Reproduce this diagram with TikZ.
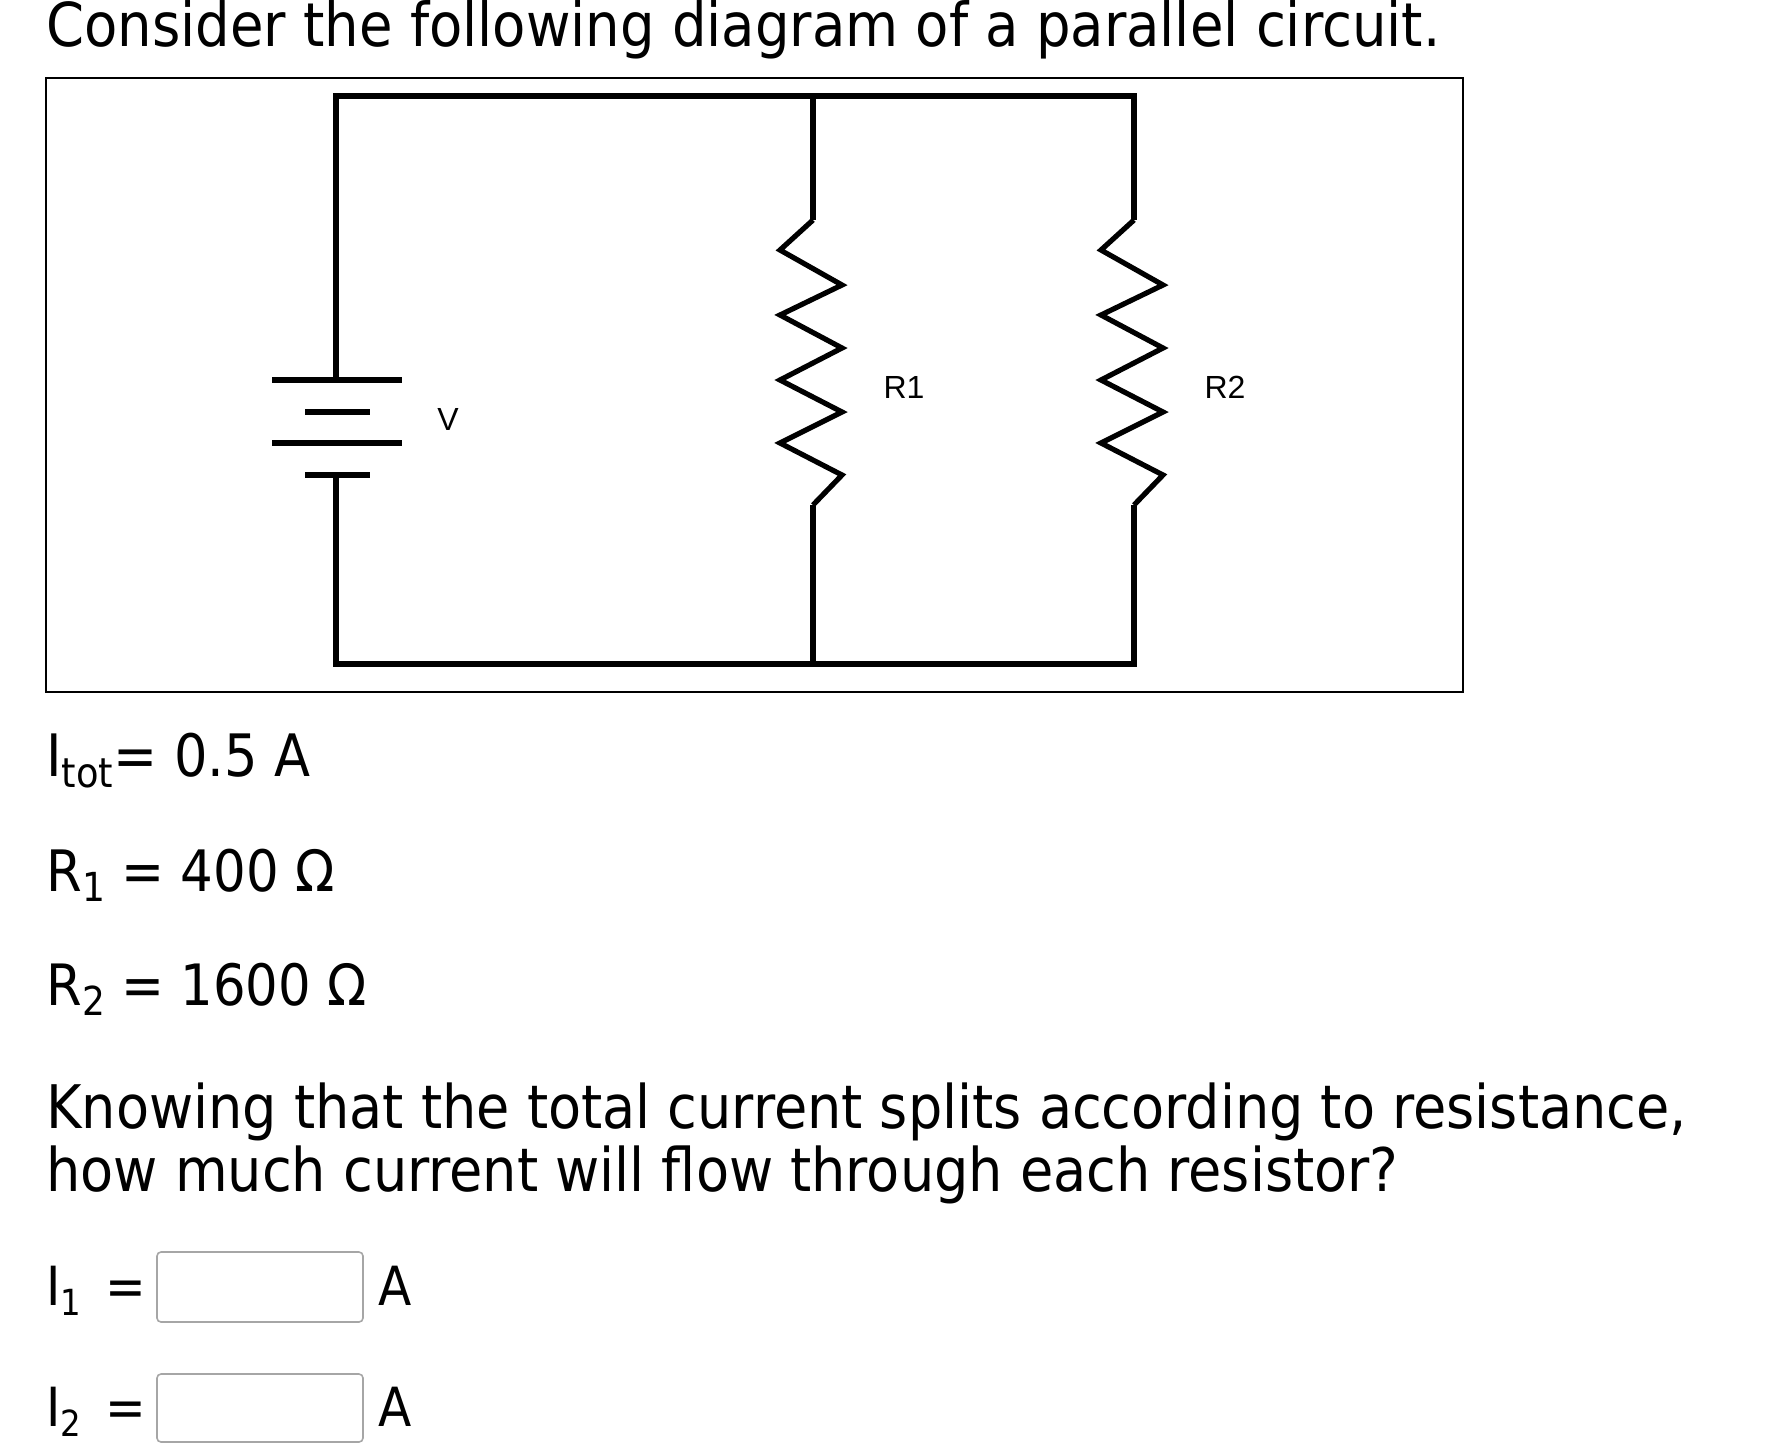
\documentclass[tikz,border=0pt]{standalone}
\usepackage{fontspec}
\setmainfont{DejaVu Sans Condensed}
\newfontfamily\helv{Liberation Sans}
\begin{document}
\begin{tikzpicture}[x=0.5pt,y=-0.5pt,
  wire/.style={line width=2.6pt,line join=miter},
  lbl/.style={inner sep=0pt,font=\helv\fontsize{16}{18}\selectfont},
  txt/.style={anchor=base west,inner sep=0pt},
  ansbox/.style={draw=gray!70,rounded corners=2pt,line width=0.8pt}]
\useasboundingbox (0,0) rectangle (1792,1447);
\node[txt] (title) at (46,46) {\resizebox{697pt}{!}{Consider the following diagram of a parallel circuit.}};
\draw[line width=1pt] (46,78) rectangle (1463,692);
% nodes of the circuit
\coordinate (bt) at (336,380);
\coordinate (bb) at (336,475);
\coordinate (tl) at (336,96);
\coordinate (bl) at (336,664);
\coordinate (t1) at (813,96);
\coordinate (b1) at (813,664);
\coordinate (t2) at (1134,96);
\coordinate (b2) at (1134,664);
\draw[wire] (bt) -- (tl) -- (t2) -- ++(0,124);
\draw[wire] (t1) -- ++(0,124);
\draw[wire] (bb) -- (bl) -- (b2) -- ++(0,-159);
\draw[wire] (b1) -- ++(0,-159);
\foreach \c in {813,1134}{
 \draw[wire] (\c,220) -- (\c-33,250) -- (\c+29,285) -- (\c-33,315) -- (\c+29,348) -- (\c-33,380) -- (\c+29,412) -- (\c-33,443) -- (\c+29,475) -- (\c,505);
}
% battery plates
\draw[wire] (272,380) -- (402,380);
\draw[wire] (305,412) -- (370,412);
\draw[wire] (272,443) -- (402,443);
\draw[wire] (305,475) -- (370,475);
\node[lbl] (V) at (448,419) {V};
\node[lbl] (R1) at (904,387) {R1};
\node[lbl] (R2) at (1225,387) {R2};
% text
\node[txt] (itot) at (46,776) {\resizebox{132pt}{!}{I\raisebox{-0.35ex}{\scriptsize tot}= 0.5 A}};
\node[txt] (r1) at (46,891) {\resizebox{144pt}{!}{R\raisebox{-0.35ex}{\scriptsize 1} = 400 Ω}};
\node[txt] (r2) at (46,1005) {\resizebox{160pt}{!}{R\raisebox{-0.35ex}{\scriptsize 2} = 1600 Ω}};
\node[txt] (q1) at (46,1128) {\resizebox{820pt}{!}{Knowing that the total current splits according to resistance,}};
\node[txt] (q2) at (46,1191) {\resizebox{676pt}{!}{how much current will flow through each resistor?}};
\draw[ansbox] (157,1252) rectangle (363,1322);
\draw[ansbox] (157,1374) rectangle (363,1442);
\node[txt] (i1) at (46,1305) {\fontsize{27}{30}\selectfont I\raisebox{-0.35ex}{\fontsize{18}{20}\selectfont 1} \,=};
\node[txt] (a1) at (378,1305) {\fontsize{27}{30}\selectfont A};
\node[txt] (i2) at (46,1426) {\fontsize{27}{30}\selectfont I\raisebox{-0.35ex}{\fontsize{18}{20}\selectfont 2} \,=};
\node[txt] (a2) at (378,1426) {\fontsize{27}{30}\selectfont A};
\end{tikzpicture}
\end{document}
